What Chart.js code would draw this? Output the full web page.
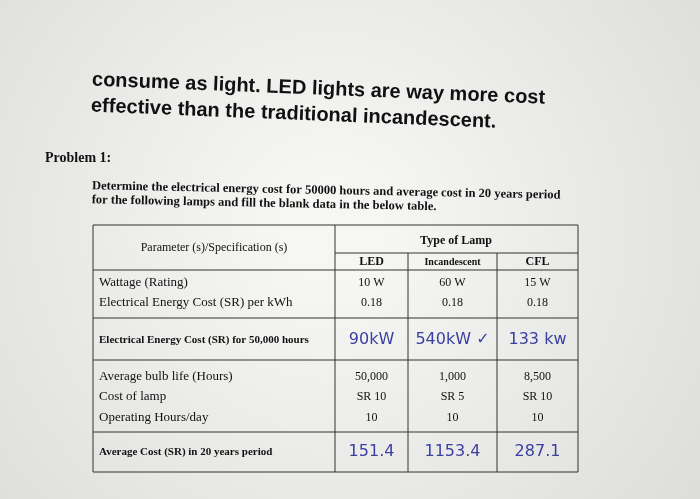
<!DOCTYPE html>
<html>
<head>
<meta charset="utf-8">
<script src="https://cdn.jsdelivr.net/npm/chart.js@4/dist/chart.umd.min.js"></script>
<style>
  html, body { margin: 0; padding: 0; background: #e9e9e9; }
  #wrap { width: 700px; height: 499px; }
</style>
</head>
<body>
<div id="wrap"><canvas id="sheet"></canvas></div>
<script>
// page text
const introLines = [
  "consume as light. LED lights are way more cost",
  "effective than the traditional incandescent."
];
const problemTitle = "Problem 1:";
const taskLines = [
  "Determine the electrical energy cost for 50000 hours and average cost in 20 years period",
  "for the following lamps and fill the blank data in the below table."
];

// table content
const lampTypes = ["LED", "Incandescent", "CFL"];
const rowLabels = [
  "Wattage (Rating)",
  "Electrical Energy Cost (SR) per kWh",
  "Electrical Energy Cost (SR) for 50,000 hours",
  "Average bulb life (Hours)",
  "Cost of lamp",
  "Operating Hours/day",
  "Average Cost (SR) in 20 years period"
];
const ledValues = ["10 W", "0.18", "90kW", "50,000", "SR 10", "10", "151.4"];
const incValues = ["60 W", "0.18", "540kW ✓", "1,000", "SR 5", "10", "1153.4"];
const cflValues = ["15 W", "0.18", "133 kw", "8,500", "SR 10", "10", "287.1"];
const handwritten = [false, false, true, false, false, false, true];
const boldRows = [false, false, true, false, false, false, true];

// layout in page units (scale space)
const colEdges = [93, 335, 408, 497, 578];
const rowCenters = [283, 303, 340, 377, 397, 418, 452];
const hLines = [225, 270, 318, 360, 432, 472];

const sheetPlugin = {
  id: 'sheet',
  beforeDraw(chart) {
    const { ctx, scales: { x, y } } = chart;
    const X = v => x.getPixelForValue(v), Y = v => y.getPixelForValue(v);
    const g = ctx.createRadialGradient(X(330), Y(230), 50, X(330), Y(230), 520);
    g.addColorStop(0, '#f6f6f4');
    g.addColorStop(1, '#d9d9d8');
    ctx.save();
    ctx.fillStyle = g;
    ctx.fillRect(0, 0, chart.width, chart.height);
    ctx.restore();
  },
  afterDraw(chart) {
    const { ctx, scales: { x, y } } = chart;
    const X = v => x.getPixelForValue(v), Y = v => y.getPixelForValue(v);
    ctx.save();
    ctx.textBaseline = 'middle';
    ctx.fillStyle = '#111';

    // intro, slightly tilted
    ctx.save();
    ctx.translate(X(92), Y(80));
    ctx.rotate(0.04);
    ctx.font = 'bold 20px "Liberation Sans", Arial';
    introLines.forEach((t, i) => ctx.fillText(t, 0, i * 26));
    ctx.restore();

    ctx.font = 'bold 14px "Liberation Serif", serif';
    ctx.fillText(problemTitle, X(45), Y(158));

    ctx.save();
    ctx.translate(X(92), Y(186));
    ctx.rotate(0.02);
    ctx.font = 'bold 12.5px "Liberation Serif", serif';
    taskLines.forEach((t, i) => ctx.fillText(t, 0, i * 14));
    ctx.restore();

    // table
    ctx.strokeStyle = '#333';
    ctx.lineWidth = 1;
    const L = X(colEdges[0]), R = X(colEdges[4]);
    hLines.forEach(v => { ctx.beginPath(); ctx.moveTo(L, Y(v)); ctx.lineTo(R, Y(v)); ctx.stroke(); });
    ctx.beginPath(); ctx.moveTo(X(colEdges[1]), Y(253)); ctx.lineTo(R, Y(253)); ctx.stroke();
    [0, 1, 4].forEach(i => {
      ctx.beginPath(); ctx.moveTo(X(colEdges[i]), Y(hLines[0])); ctx.lineTo(X(colEdges[i]), Y(hLines[5])); ctx.stroke();
    });
    [2, 3].forEach(i => {
      ctx.beginPath(); ctx.moveTo(X(colEdges[i]), Y(253)); ctx.lineTo(X(colEdges[i]), Y(hLines[5])); ctx.stroke();
    });

    ctx.font = '12px "Liberation Serif", serif';
    ctx.textAlign = 'center';
    ctx.fillText("Parameter (s)/Specification (s)", X(214), Y(248));
    ctx.font = 'bold 12px "Liberation Serif", serif';
    ctx.fillText("Type of Lamp", X(456), Y(241));
    lampTypes.forEach((t, i) => {
      ctx.font = (i === 1 ? 'bold 10px' : 'bold 12px') + ' "Liberation Serif", serif';
      ctx.fillText(t, X((colEdges[i + 1] + colEdges[i + 2]) / 2), Y(262));
    });

    const cols = [ledValues, incValues, cflValues];
    rowLabels.forEach((lab, r) => {
      ctx.textAlign = 'left';
      ctx.fillStyle = '#111';
      ctx.font = boldRows[r] ? 'bold 11px "Liberation Serif", serif' : '13px "Liberation Serif", serif';
      ctx.fillText(lab, X(99), Y(rowCenters[r]));
      ctx.textAlign = 'center';
      cols.forEach((vals, c) => {
        const cx = X((colEdges[c + 1] + colEdges[c + 2]) / 2);
        if (handwritten[r]) {
          ctx.fillStyle = '#3a3fa0';
          ctx.font = '16px "DejaVu Sans", sans-serif';
        } else {
          ctx.fillStyle = '#111';
          ctx.font = '12px "Liberation Serif", serif';
        }
        ctx.fillText(vals[r], cx, Y(rowCenters[r]));
      });
    });
    ctx.restore();
  }
};

new Chart(document.getElementById('sheet'), {
  type: 'scatter',
  data: { datasets: [{ data: [] }] },
  options: {
    responsive: true,
    maintainAspectRatio: false,
    animation: false,
    layout: { padding: 0 },
    plugins: { legend: { display: false }, tooltip: { enabled: false } },
    scales: {
      x: { type: 'linear', min: 0, max: 700, display: false },
      y: { type: 'linear', min: 0, max: 499, reverse: true, display: false }
    }
  },
  plugins: [sheetPlugin]
});
</script>
</body>
</html>
